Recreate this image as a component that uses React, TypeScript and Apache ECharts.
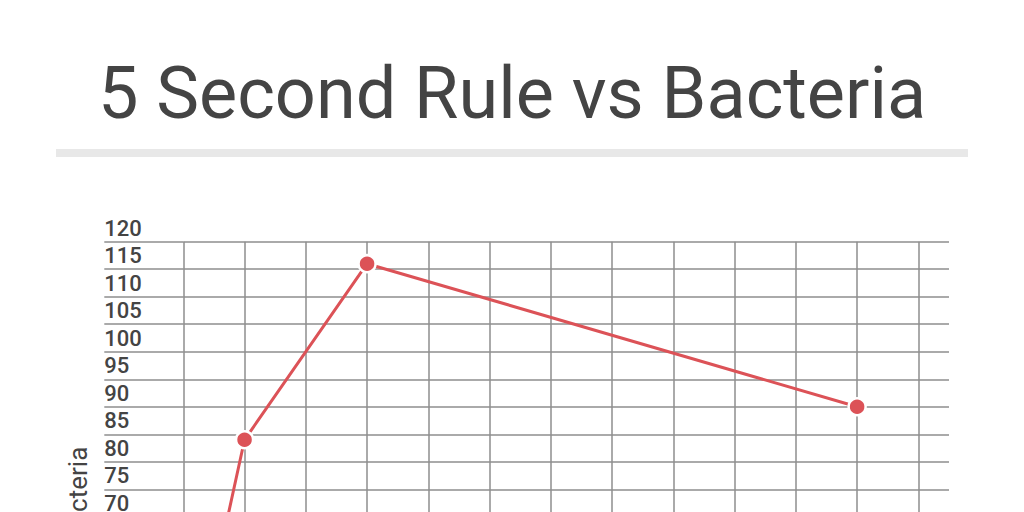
import React, { useEffect, useRef } from "react";
import * as echarts from "echarts";

const titleText = "5 Second Rule vs Bacteria";
const yAxisName = "Number of Bacteria";
const xSeconds = [0, 1, 3, 11];
const bacteria = [28, 79, 111, 85];
const yTickValues = [0, 5, 10, 15, 20, 25, 30, 35, 40, 45, 50, 55, 60, 65, 70, 75, 80, 85, 90, 95, 100, 105, 110, 115];
const xTickValues = [0, 1, 2, 3, 4, 5, 6, 7, 8, 9, 10, 11, 12];

const GRID_COLOR = "#8e8e8e";
const TEXT_COLOR = "#444444";
const LINE_COLOR = "#dc5257";

export default function App() {
  const ref = useRef<HTMLDivElement>(null);
  useEffect(() => {
    if (!ref.current) return;
    const chart = echarts.init(ref.current, undefined, { renderer: "svg" });
    const gridTop = 214.2;
    const gridHeight = 660.2;
    const gridLeft = 183.3;
    const gridRight = 75;
    const y115 = gridTop + gridHeight * (5 / 120);
    chart.setOption({
      animation: false,
      backgroundColor: "#ffffff",
      title: {
        text: titleText,
        left: "center",
        top: 52,
        textStyle: {
          fontFamily: "Roboto",
          fontSize: 72,
          fontWeight: 400,
          color: TEXT_COLOR,
        },
      },
      graphic: [
        {
          type: "rect",
          shape: { x: 56, y: 149, width: 912, height: 8 },
          style: { fill: "#e8e8e8" },
        },
      ],
      grid: {
        left: gridLeft,
        right: gridRight,
        top: gridTop,
        height: gridHeight,
        containLabel: false,
      },
      xAxis: {
        type: "value",
        min: 0,
        max: 12.5,
        interval: 1,
        axisLine: { show: false },
        axisTick: {
          show: true,
          inside: true,
          length: gridTop + gridHeight - y115,
          customValues: xTickValues,
          lineStyle: { color: GRID_COLOR, width: 1.5 },
        },
        axisLabel: { show: false },
        splitLine: { show: false },
      },
      yAxis: {
        type: "value",
        min: 0,
        max: 120,
        interval: 5,
        name: yAxisName,
        nameLocation: "middle",
        nameGap: 92,
        nameTextStyle: {
          fontFamily: "Roboto",
          fontSize: 26,
          color: TEXT_COLOR,
          padding: [0, 30, 0, 0],
        },
        axisLine: { show: false },
        axisTick: {
          show: true,
          inside: false,
          length: 79,
          customValues: yTickValues,
          lineStyle: { color: GRID_COLOR, width: 1.5 },
        },
        axisLabel: {
          show: true,
          align: "left",
          verticalAlign: "top",
          margin: 79,
          padding: [3, 0, 0, 0],
          fontFamily: "Roboto",
          fontSize: 22,
          fontWeight: 500,
          color: TEXT_COLOR,
        },
        splitLine: {
          show: true,
          lineStyle: { color: GRID_COLOR, width: 1.5 },
        },
      },
      series: [
        {
          type: "line",
          data: xSeconds.map((x, i) => [x, bacteria[i]]),
          lineStyle: { color: LINE_COLOR, width: 3 },
          itemStyle: { color: LINE_COLOR, borderColor: "#ffffff", borderWidth: 2.5 },
          symbol: "circle",
          symbolSize: 17,
          showSymbol: true,
          z: 5,
        },
      ],
    });
    return () => chart.dispose();
  }, []);
  return (
    <div style={{ position: "fixed", left: 0, top: 0, width: 1024, height: 512, overflow: "hidden", background: "#fff" }}>
      <div ref={ref} style={{ position: "absolute", left: 0, top: 0, width: 1024, height: 1000 }} />
    </div>
  );
}
